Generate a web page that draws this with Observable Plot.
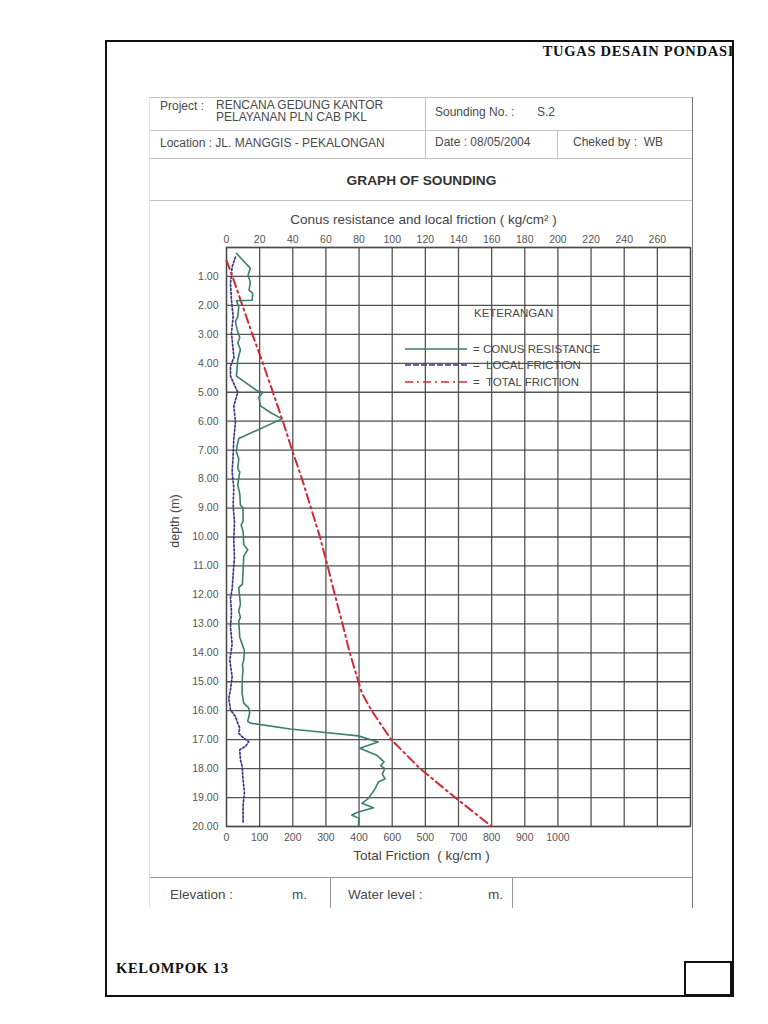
<!DOCTYPE html>
<html>
<head>
<meta charset="utf-8">
<script src="https://cdn.jsdelivr.net/npm/d3@7"></script>
<script src="https://cdn.jsdelivr.net/npm/@observablehq/plot@0.6"></script>
<style>
  html, body { margin: 0; padding: 0; background: #fff; }
  body { width: 768px; height: 1024px; position: relative; overflow: hidden; font-family: "Liberation Sans", Arial, sans-serif; }
  .abs { position: absolute; }
  .frame { left: 105px; top: 40px; width: 625px; height: 953px; border: 2.5px solid #111; }
  .serif { font-family: "Liberation Serif", "Times New Roman", serif; font-weight: bold; font-size: 14.5px; letter-spacing: 0.7px; color: #111; white-space: nowrap; }
  .box { left: 684px; top: 961px; width: 44px; height: 31px; border: 2.5px solid #111; }
  .hl { height: 0; border-top: 1.5px solid #c4c4c4; }
  .vl { width: 0; border-left: 1.5px solid #c4c4c4; }
  .t { font-size: 12px; color: #4a4a4a; white-space: nowrap; line-height: 12px; }
  .b { font-size: 13.5px; }
  .legend { font-size: 11.5px; color: #4a4a4a; white-space: nowrap; line-height: 12px; }
</style>
</head>
<body>
<div class="abs frame"></div>
<div class="abs serif" style="right:34px; top:43px;">TUGAS DESAIN PONDASI</div>
<div class="abs serif" style="left:116px; top:960px;">KELOMPOK 13</div>
<div class="abs box"></div>

<!-- form lines -->
<div class="abs hl" style="left:150px; top:97px; width:543px;"></div>
<div class="abs hl" style="left:150px; top:130px; width:543px;"></div>
<div class="abs hl" style="left:150px; top:158px; width:543px;"></div>
<div class="abs hl" style="left:150px; top:200px; width:543px;"></div>
<div class="abs hl" style="left:150px; top:877px; width:543px; border-top-color:#999;"></div>
<div class="abs vl" style="left:149px; top:97px; height:811px; border-left-color:#e2e2e2;"></div>
<div class="abs vl" style="left:692px; top:97px; height:811px; border-left-color:#777;"></div>
<div class="abs vl" style="left:425px; top:97px; height:61px;"></div>
<div class="abs vl" style="left:557px; top:130px; height:28px;"></div>
<div class="abs vl" style="left:330px; top:878px; height:30px; border-left-color:#999;"></div>
<div class="abs vl" style="left:512px; top:878px; height:30px; border-left-color:#999;"></div>

<!-- form texts -->
<div class="abs t" style="left:160px; top:100px;">Project :</div>
<div class="abs t" style="left:216px; top:99px;">RENCANA GEDUNG KANTOR</div>
<div class="abs t" style="left:216px; top:111px;">PELAYANAN PLN CAB PKL</div>
<div class="abs t" style="left:435px; top:106px;">Sounding No. :</div>
<div class="abs t" style="left:537px; top:106px;">S.2</div>
<div class="abs t" style="left:160px; top:137px;">Location : JL. MANGGIS - PEKALONGAN</div>
<div class="abs t" style="left:435px; top:136px;">Date : 08/05/2004</div>
<div class="abs t" style="left:573px; top:136px;">Cheked by :&nbsp; WB</div>
<div class="abs t" style="left:150px; width:543px; text-align:center; top:175px; font-weight:bold; font-size:13.7px; color:#333;">GRAPH OF SOUNDING</div>
<div class="abs t b" style="left:170px; top:889px;">Elevation :</div>
<div class="abs t b" style="left:292px; top:889px;">m.</div>
<div class="abs t b" style="left:348px; top:889px;">Water level :</div>
<div class="abs t b" style="left:488px; top:889px;">m.</div>

<div id="chart" class="abs" style="left:150px; top:200px;"></div>

<!-- legend -->
<div class="abs legend" style="left:474px; top:307px;">KETERANGAN</div>
<svg class="abs" style="left:400px; top:341px;" width="75" height="50">
  <line x1="5" x2="67" y1="8" y2="8" stroke="#3d7d70" stroke-width="1.6"/>
  <line x1="5" x2="67" y1="24" y2="24" stroke="#3a3a8c" stroke-width="1.6" stroke-dasharray="6,2"/>
  <line x1="5" x2="67" y1="41" y2="41" stroke="#d02a35" stroke-width="1.6" stroke-dasharray="8,4,2,4"/>
</svg>
<div class="abs legend" style="left:473px; top:343px;">= CONUS RESISTANCE</div>
<div class="abs legend" style="left:473px; top:359px;">=&nbsp; LOCAL FRICTION</div>
<div class="abs legend" style="left:473px; top:376px;">=&nbsp; TOTAL FRICTION</div>

<script>
// ---- data ----
const conusDepth = [0.2,0.45,0.72,0.96,1.2,1.47,1.58,1.82,1.84,2.05,2.39,2.56,2.84,3.12,3.29,3.53,3.87,4.44,4.95,5.0,5.17,5.47,5.7,5.92,6.6,6.84,7.06,7.3,7.64,7.75,8.2,8.5,8.9,9.0,9.47,9.58,9.8,10.26,10.44,10.66,11.18,11.63,11.75,12.09,12.32,12.55,12.78,12.9,13.46,13.92,14.26,14.4,14.6,14.8,15.4,15.74,15.9,16.08,16.37,16.43,16.63,16.77,16.87,17.08,17.3,17.55,17.77,17.9,18.0,18.2,18.35,18.46,18.69,19.03,19.2,19.35,19.5,19.6,19.72,19.95];
const conusValue = [6,10,14.4,13,14.4,13.6,15.8,15.5,6,7.4,6.8,5.4,6.4,8,6.8,8.4,6.8,6,18.5,22,19.5,20.5,26.5,33.5,7.4,6.4,6,7.4,6.8,8,6.8,8,8.4,10,10,8.8,10,10.4,12.8,10.4,10,9.6,7.4,8,8.4,7.4,8.4,7.4,8,10.8,10.4,9.6,10,9.6,9.4,10.4,13.4,14,12.8,14.4,38.5,62.6,79.5,91.5,80.5,91,95,93,95.5,94,95.7,91.7,89.7,85.7,81.7,88.7,79.6,75.6,80,79.6];

const localDepth = [0.33,0.67,1.24,1.82,2.39,2.95,3.53,3.8,4.1,4.44,4.9,5.0,5.47,6.03,6.6,7.2,7.75,8.3,8.9,9.5,10.1,10.7,11.3,11.8,12.1,12.6,13.1,13.7,14.26,14.83,15.27,15.57,15.97,16.2,16.43,16.6,16.78,16.9,17.07,17.24,17.35,17.69,17.92,18.37,18.83,19.28,19.85];
const localValue = [5.4,3.4,2.4,3,4,3,4,4.5,2.4,2.4,6,6.8,4.4,5.4,4.4,4,3.4,4.4,4,4.8,4.4,4.8,4,3.4,2.4,3,2.4,3.4,2,3.4,2.4,1.4,2.4,5.4,6.8,8,7.4,9.4,13.4,11.4,8,8.4,9.4,10,10.8,10,10];

const totalDepth = [0.45,1,2,3,4,5,6,7,8,9,10,11,12,13,14,15,15.4,16,17,18,19,20];
const totalValue = [0,18,48,78,110,140,170,198,228,255,282,305,327,350,372,398,409,438,497,584,690,800];

const topTicks = [0,20,40,60,80,100,120,140,160,180,200,220,240,260];
const bottomTickLabels = ["0","100","200","300","400","600","500","700","800","900","1000"];
const depthTicks = [1,2,3,4,5,6,7,8,9,10,11,12,13,14,15,16,17,18,19,20];

const topTitle = "Conus resistance and local friction ( kg/cm\u00B2 )";
const bottomTitle = "Total Friction  ( kg/cm )";
const depthTitle = "depth (m)";

// ---- tables ----
const conus = conusDepth.map((d, i) => ({depth: d, value: conusValue[i]}));
const local = localDepth.map((d, i) => ({depth: d, value: localValue[i]}));
const total = totalDepth.map((d, i) => ({depth: d, value: totalValue[i]}));
const frictionRatio = 5; // bottom axis units per top axis unit
const bottomTicks = bottomTickLabels.map((_, i) => i * 20);

const chart = Plot.plot({
  width: 543,
  height: 678,
  marginLeft: 76,
  marginRight: 3,
  marginTop: 47,
  marginBottom: 52,
  x: {domain: [0, 280]},
  y: {domain: [0, 20], reverse: true},
  style: {fontFamily: "'Liberation Sans', Arial, sans-serif", fontSize: "10.5px", color: "#555", background: "transparent"},
  marks: [
    Plot.gridX({ticks: d3.range(0, 281, 20), stroke: "#4a4a4a", strokeOpacity: 0.95, strokeWidth: 1.3}),
    Plot.gridY({ticks: d3.range(0, 21, 1), stroke: "#4a4a4a", strokeOpacity: 0.95, strokeWidth: 1.3}),
    Plot.frame({stroke: "#4a4a4a", strokeWidth: 1.3}),
    Plot.axisX({anchor: "top", ticks: topTicks, tickSize: 0, tickPadding: 5, label: null, fill: "#555"}),
    Plot.axisX({anchor: "bottom", ticks: bottomTicks, tickSize: 0, tickPadding: 7, label: null, fill: "#555",
                tickFormat: (d) => bottomTickLabels[Math.round(d / 20)]}),
    Plot.axisY({ticks: depthTicks, tickSize: 0, tickPadding: 8, label: null, fill: "#555",
                tickFormat: (d) => d.toFixed(2)}),
    Plot.text([topTitle], {frameAnchor: "top", dx: -35, dy: -33, fontSize: 13.5, fill: "#444"}),
    Plot.text([bottomTitle], {frameAnchor: "bottom", dx: -37, dy: 33, fontSize: 13.5, fill: "#444"}),
    Plot.text([depthTitle], {frameAnchor: "left", textAnchor: "middle", dx: -52, dy: -16, rotate: -90, fontSize: 12.5, fill: "#444"}),
    Plot.line(local, {x: "value", y: "depth", stroke: "#3a3a8c", strokeWidth: 1.7, strokeDasharray: "2,2"}),
    Plot.line(total, {x: (d) => d.value / frictionRatio, y: "depth", stroke: "#d02a35", strokeWidth: 2, strokeDasharray: "9,4,2,4"}),
    Plot.line(conus, {x: "value", y: "depth", stroke: "#3d7d70", strokeWidth: 1.6})
  ]
});
document.getElementById("chart").appendChild(chart);
</script>
</body>
</html>
